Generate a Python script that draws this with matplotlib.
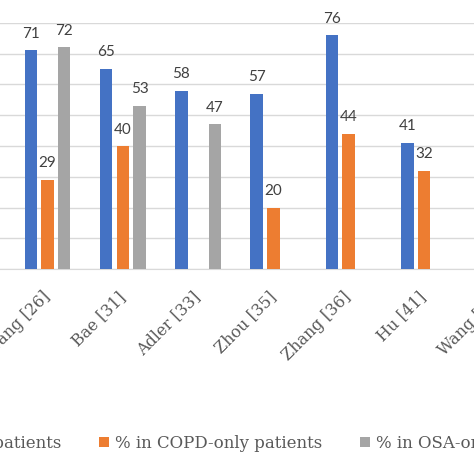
import matplotlib
matplotlib.use("Agg")
import matplotlib.pyplot as plt
import matplotlib.transforms as mtransforms
import numpy as np

studies = ["Wang [26]", "Bae [31]", "Adler [33]", "Zhou [35]", "Zhang [36]", "Hu [41]", "Wang [42]"]
overlap = [71, 65, 58, 57, 76, 41, 61]
copd_only = [29, 40, None, 20, 44, 32, None]
osa_only = [72, 53, 47, None, None, None, None]
series_names = ["% in overlap patients", "% in COPD-only patients", "% in OSA-only patients"]
colors = ["#4472C4", "#ED7D31", "#A5A5A5"]

W = 474
fig = plt.figure(figsize=(4.74, 4.74), dpi=100)
# plot area is cropped: it runs past both sides of the picture
ax = fig.add_axes([0, 1 - 269.3 / W, 1, (269.3 - 22.7) / W])

x = np.arange(len(studies))
width = 0.166
step = 0.222
handles = []
for i, (vals, col) in enumerate(zip([overlap, copd_only, osa_only], colors)):
    xs = [xi + (i - 1) * step for xi, v in zip(x, vals) if v is not None]
    hs = [v for v in vals if v is not None]
    b = ax.bar(xs, hs, width, color=col, label=series_names[i], zorder=3)
    handles.append(b)
    for xx, h in zip(xs, hs):
        ax.annotate(str(h), (xx, h), xytext=(0, 9), textcoords="offset points",
                    ha="center", va="baseline", fontsize=11, family="Lato",
                    color="#404040", annotation_clip=False)

ax.set_xlim(-47.5 / 75.3, (W - 47.5) / 75.3)
ax.set_ylim(0, 80)
ax.set_yticks(range(0, 81, 10))
ax.set_xticks([])
ax.yaxis.grid(True, color="#D9D9D9", lw=1)
ax.set_axisbelow(True)
ax.tick_params(left=False, labelleft=False, bottom=False)
for s in ["left", "right", "top"]:
    ax.spines[s].set_visible(False)
ax.spines["bottom"].set_color("#D9D9D9")

# category labels drawn as text so the last (cropped) one still shows
lab_tr = ax.get_xaxis_transform() + mtransforms.ScaledTranslation(-6 / 100, -19 / 100, fig.dpi_scale_trans)
for xi, name in zip(x, studies):
    ax.text(xi, 0, name, transform=lab_tr, rotation=45, ha="right", va="top",
            rotation_mode="anchor", fontsize=11.5, family="DejaVu Serif",
            color="#595959", clip_on=False)

leg = fig.legend(handles=handles, loc="center left", bbox_to_anchor=(0, 0.065), ncol=3,
                 frameon=False, prop={"family": "DejaVu Serif", "size": 12},
                 labelcolor="#595959", handlelength=0.6, handleheight=0.6,
                 handletextpad=0.36, columnspacing=2.28, borderpad=0, borderaxespad=0)
fig.canvas.draw()
bb = leg.legend_handles[1].get_window_extent()
leg.set_bbox_to_anchor((-(bb.x0 - 99) / W, 0.065))

fig.savefig("out.png", dpi=100)
